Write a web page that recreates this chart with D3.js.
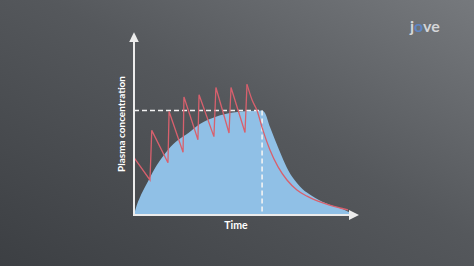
<!DOCTYPE html>
<html>
<head>
<meta charset="utf-8">
<script src="https://cdn.jsdelivr.net/npm/d3@7"></script>
<style>
  html, body { margin: 0; padding: 0; overflow: hidden; }
  body { width: 474px; height: 266px; }
  text { font-family: Lato, "Open Sans", sans-serif; }
</style>
</head>
<body>
<script>
// time units on x, concentration (plateau = 1) on y

// smooth infusion-like curve (blue area)
var blueTime = [0, 0.12, 0.27, 0.5, 0.72, 0.95, 1.25, 1.55, 2.0, 2.45, 2.97, 3.69, 4.46, 5.23, 5.77,
                5.9, 6.13, 6.35, 6.67, 6.94, 7.34, 7.61, 7.79, 8.15, 8.51, 8.9, 9.28, 9.6, 9.86];
var blueConc = [0, 0.09, 0.17, 0.27, 0.36, 0.45, 0.545, 0.63, 0.72, 0.785, 0.87, 0.94, 0.98, 0.995, 1.0,
                0.976, 0.84, 0.72, 0.555, 0.43, 0.306, 0.245, 0.215, 0.165, 0.124, 0.092, 0.067, 0.035, 0.01];

// repeated dosing sawtooth (red line)
var redTime = [0, 0.72, 0.8, 1.53, 1.58, 2.21, 2.25, 2.88, 2.93, 3.6, 3.69, 4.28, 4.37, 5.0, 5.09,
               5.32, 5.54, 5.81, 6.13, 6.49, 6.89, 7.34, 7.79, 8.51, 9.28, 9.64];
var redConc = [0.55, 0.335, 0.81, 0.5, 0.99, 0.6, 1.13, 0.72, 1.15, 0.75, 1.22, 0.785, 1.22, 0.79, 1.25,
               1.1, 1.0, 0.81, 0.62, 0.46, 0.335, 0.24, 0.18, 0.115, 0.067, 0.048];

var plateauLevel = 1.0;
var plateauEnd = 5.77;

var xLabel = "Time";
var yLabel = "Plasma concentration";

window.onload = function(){
    drawChart();
};

function drawChart(){
    var svg = d3.select("body").append("svg").attr("width", 474).attr("height", 266);

    // background gradient, lighter towards top right
    var defs = svg.append("defs");
    var grad = defs.append("linearGradient")
        .attr("id", "bg")
        .attr("x1", "0%").attr("y1", "100%")
        .attr("x2", "100%").attr("y2", "0%");
    grad.append("stop").attr("offset", "0%").attr("stop-color", "#3c3f43");
    grad.append("stop").attr("offset", "55%").attr("stop-color", "#55585c");
    grad.append("stop").attr("offset", "100%").attr("stop-color", "#76797d");
    svg.append("rect").attr("width", 474).attr("height", 266).attr("fill", "url(#bg)");

    // arrow heads
    defs.append("marker")
        .attr("id", "arrow")
        .attr("viewBox", "0 0 10 10")
        .attr("refX", 1).attr("refY", 5)
        .attr("markerWidth", 5).attr("markerHeight", 5)
        .attr("markerUnits", "strokeWidth")
        .attr("orient", "auto")
        .append("path")
        .attr("d", "M0,0 L10,5 L0,10 z")
        .attr("fill", "#ececec");

    var xScale = d3.scaleLinear().domain([0, 10]).range([134, 356]);
    var yScale = d3.scaleLinear().domain([0, 1.7]).range([215, 37.35]);

    var blue = blueTime.map(function(t, i){ return [t, blueConc[i]]; });
    var red = redTime.map(function(t, i){ return [t, redConc[i]]; });

    var area = d3.area()
        .x(function(d){ return xScale(d[0]); })
        .y0(yScale(0))
        .y1(function(d){ return yScale(d[1]); })
        .curve(d3.curveMonotoneX);

    svg.append("path")
        .datum(blue)
        .attr("d", area)
        .attr("fill", "#90c0e6");

    // dashed plateau guides
    svg.append("line")
        .attr("x1", xScale(0)).attr("x2", xScale(plateauEnd))
        .attr("y1", yScale(plateauLevel)).attr("y2", yScale(plateauLevel))
        .attr("stroke", "#f2f2f2").attr("stroke-width", 1.6)
        .attr("stroke-dasharray", "5,3");
    svg.append("line")
        .attr("x1", xScale(plateauEnd)).attr("x2", xScale(plateauEnd))
        .attr("y1", yScale(plateauLevel)).attr("y2", yScale(0))
        .attr("stroke", "#f2f2f2").attr("stroke-width", 1.6)
        .attr("stroke-dasharray", "5,3");

    var line = d3.line()
        .x(function(d){ return xScale(d[0]); })
        .y(function(d){ return yScale(d[1]); });

    // sawtooth, smooth part after the last dose
    var lastDose = 14;
    svg.append("path")
        .datum(red.slice(0, lastDose + 1))
        .attr("d", line)
        .attr("fill", "none")
        .attr("stroke", "#d8606d")
        .attr("stroke-width", 1.3)
        .attr("stroke-linejoin", "miter");
    svg.append("path")
        .datum(red.slice(lastDose))
        .attr("d", line.curve(d3.curveMonotoneX))
        .attr("fill", "none")
        .attr("stroke", "#d8606d")
        .attr("stroke-width", 1.3);

    // axes without ticks
    var xAxis = svg.append("g")
        .attr("transform", "translate(0," + yScale(0) + ")")
        .call(d3.axisBottom(xScale).tickValues([]).tickSizeOuter(0));
    var yAxis = svg.append("g")
        .attr("transform", "translate(" + xScale(0) + ",0)")
        .call(d3.axisLeft(yScale).tickValues([]).tickSizeOuter(0));

    svg.selectAll(".domain")
        .attr("stroke", "#ececec")
        .attr("stroke-width", 2)
        .attr("marker-end", "url(#arrow)");
    // redraw the domains so the arrows point away from the origin
    yAxis.select(".domain")
        .attr("d", "M0," + (yScale(0) + 1) + "V" + (yScale(1.7) + 4));
    xAxis.select(".domain")
        .attr("d", "M" + (xScale(0) - 1) + ",0H" + (xScale(10) - 6));

    // axis labels
    svg.append("text")
        .attr("x", 236).attr("y", 229)
        .attr("text-anchor", "middle")
        .attr("fill", "#ffffff")
        .style("font-size", "10.5px")
        .style("font-weight", "bold")
        .text(xLabel);

    svg.append("text")
        .attr("transform", "translate(125,124) rotate(-90)")
        .attr("text-anchor", "middle")
        .attr("fill", "#ffffff")
        .style("font-size", "10px")
        .style("font-weight", "bold")
        .text(yLabel);

    // logo
    var logo = svg.append("text")
        .attr("x", 410).attr("y", 32)
        .attr("fill", "#d4d6d9")
        .style("font-size", "16px")
        .style("font-weight", "bold");
    logo.append("tspan").text("j");
    logo.append("tspan").attr("fill", "#5f86c4").text("o");
    logo.append("tspan").text("ve");
}
</script>
</body>
</html>
